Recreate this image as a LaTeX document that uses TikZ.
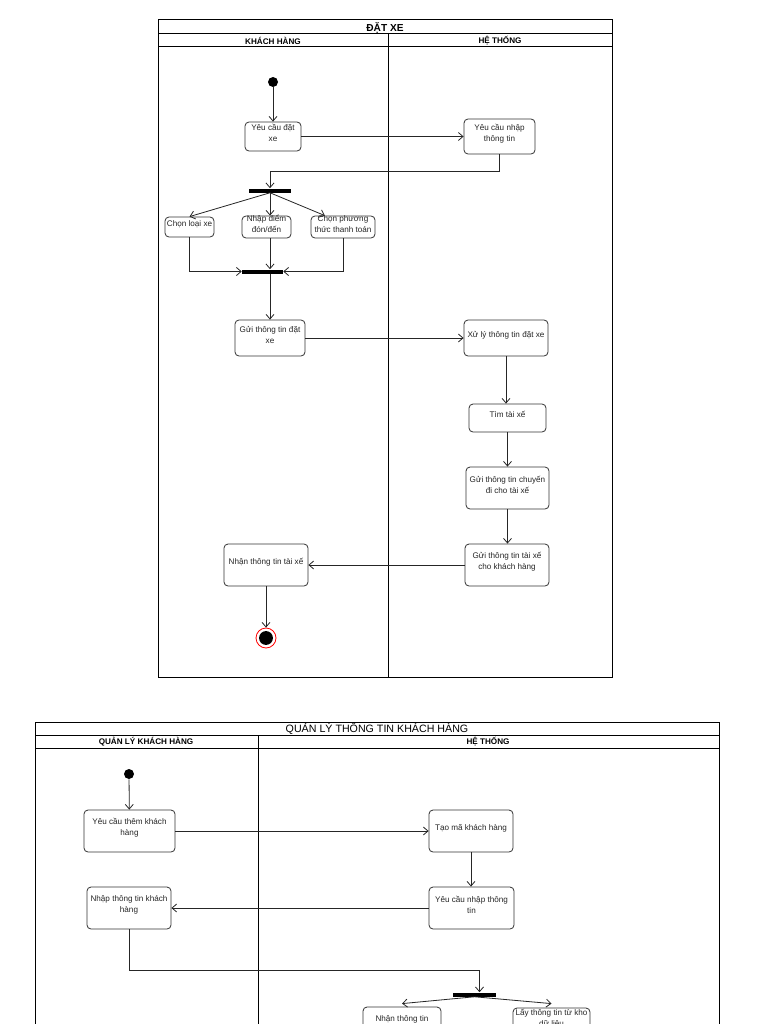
\documentclass[tikz,border=0pt]{standalone}
\usepackage{fontspec}
\setmainfont{Liberation Sans}
\usetikzlibrary{arrows.meta,fit,calc}
\begin{document}
\begin{tikzpicture}[x=0.75pt,y=-0.75pt,
 every node/.style={font=\fontsize{6.1}{8.2}\selectfont, text=black!85},
 box/.style={draw=black!80, rounded corners=3pt, line width=0.6pt, inner sep=0pt, align=center},
 lane/.style={draw=black, line width=0.75pt},
 flow/.style={draw=black!85, line width=0.6pt, -{Straight Barb[length=3.5pt,width=6pt]}},
 bar/.style={fill=black, inner sep=0pt, minimum height=3pt},
 title/.style={font=\fontsize{7.6}{9}\selectfont\bfseries, text=black},
 head/.style={font=\fontsize{6.1}{7}\selectfont\bfseries, text=black},
 startnode/.style={circle, fill=black, inner sep=0pt, minimum size=7.5pt},
]
\clip (0,0) rectangle (768,1024);
\fill[white] (0,0) rectangle (768,1024);

% ---------------- Diagram 1 ----------------
\draw[lane] (158,20) rectangle (612,677);
\draw[lane] (158,34) -- (612,34);
\draw[lane] (158,47) -- (612,47);
\draw[lane] (388,34) -- (388,677);
\node[title] (t1) at (385,27.5) {ĐẶT XE};
\node[head] (h1a) at (273,41) {KHÁCH HÀNG};
\node[head] (h1b) at (500,41) {HỆ THỐNG};

\node[startnode] (s1) at (273,82) {};
\node[box, fit={(245,122)(301,151)}] (a1) {Yêu cầu đặt\\xe};
\node[box, fit={(464,119)(535,154)}] (a2) {Yêu cầu nhập\\thông tin};
\node[bar, minimum width=31.5pt] (f1) at (270,190.5) {};
\node[box, fit={(165,217)(214,237)}] (b1) {Chọn loại xe};
\node[box, fit={(242,216)(291,238)}] (b2) {Nhập điểm\\đón/đến};
\node[box, fit={(311,216)(375,238)}] (b3) {Chọn phương\\thức thanh toán};
\node[bar, minimum width=30.75pt] (j1) at (262.5,271.5) {};
\node[box, fit={(235,320)(305,356)}] (c1) {Gửi thông tin đặt\\xe};
\node[box, fit={(464,320)(548,356)}] (c2) {Xử lý thông tin đặt xe};
\node[box, fit={(469,404)(546,432)}] (c3) {Tìm tài xế};
\node[box, fit={(466,467)(549,509)}] (c4) {Gửi thông tin chuyến\\đi cho tài xế};
\node[box, fit={(465,544)(549,586)}] (c5) {Gửi thông tin tài xế\\cho khách hàng};
\node[box, fit={(224,544)(308,586)}] (c6) {Nhận thông tin tài xế};
\node[circle, draw=red, line width=0.6pt, fill=white, inner sep=0pt, minimum size=15pt] (e1) at (266,638) {};
\fill[black] (e1.center) circle (5.2pt);

\draw[flow] (s1) -- (a1);
\draw[flow] (a1.east) -- (a1.east -| a2.west);
\draw[flow] (a2.south) -- ++(0,17) -| (f1.north);
\draw[flow] (f1.south) -- (b1.north);
\draw[flow] (f1.south) -- (f1.south |- b2.north);
\draw[flow] (f1.south) -- ($(b3.north west)!0.22!(b3.north east)$);
\draw[flow] (b1.south) |- (j1.west);
\draw[flow] (b2.south -| f1) -- (j1.north -| f1);
\draw[flow] (b3.south) |- (j1.east);
\draw[flow] (j1.south -| f1) -- (c1.north);
\draw[flow] (c1.east) -- (c1.east -| c2.west);
\draw[flow] (c2.south) -- (c2.south |- c3.north);
\draw[flow] (c3.south) -- (c3.south |- c4.north);
\draw[flow] (c4.south) -- (c4.south |- c5.north);
\draw[flow] (c5.west) -- (c6.east);
\draw[flow] (c6.south) -- (e1.north);

% ---------------- Diagram 2 ----------------
\draw[lane] (35,722) rectangle (719,1100);
\draw[lane] (35,735) -- (719,735);
\draw[lane] (35,748) -- (719,748);
\draw[lane] (258,735) -- (258,1100);
\node[font=\fontsize{8}{9}\selectfont, text=black] (t2) at (377,728.5) {QUẢN LÝ THÔNG TIN KHÁCH HÀNG};
\node[head] (h2a) at (146,741.5) {QUẢN LÝ KHÁCH HÀNG};
\node[head] (h2b) at (488,741.5) {HỆ THỐNG};

\node[startnode] (s2) at (129,774) {};
\node[box, fit={(84,810)(175,852)}] (d1) {Yêu cầu thêm khách\\hàng};
\node[box, fit={(429,810)(513,852)}] (d2) {Tạo mã khách hàng};
\node[box, fit={(429,887)(514,929)}] (d3) {Yêu cầu nhập thông\\tin};
\node[box, fit={(87,887)(171,929)}] (d4) {Nhập thông tin khách\\hàng};
\node[bar, minimum width=32.25pt] (f2) at (474.5,994.5) {};
\node[box, fit={(363,1007)(441,1049)}] (g1) {};
\node[anchor=north, inner sep=0pt] (g1t) at ($(g1.north)+(0,9)$) {Nhận thông tin};
\node[box, fit={(513,1008)(590,1050)}] (g2) {};
\node[anchor=north, inner sep=0pt, align=center] (g2t) at ($(g2.north)+(0,1)$) {Lấy thông tin từ kho\\dữ liệu};

\draw[flow] (s2) -- (d1);
\draw[flow] (d1.east) -- (d1.east -| d2.west);
\draw[flow] (d2.south) -- (d2.south |- d3.north);
\draw[flow] (d3.west) -- (d3.west -| d4.east);
\draw[flow] (d4.south) -- ++(0,41) -| ($(f2.north)+(5,0)$);
\draw[flow] (f2.south) -- ($(g1.north)+(0,-3)$);
\draw[flow] (f2.south) -- ($(g2.north)+(0,-4)$);
\end{tikzpicture}
\end{document}
